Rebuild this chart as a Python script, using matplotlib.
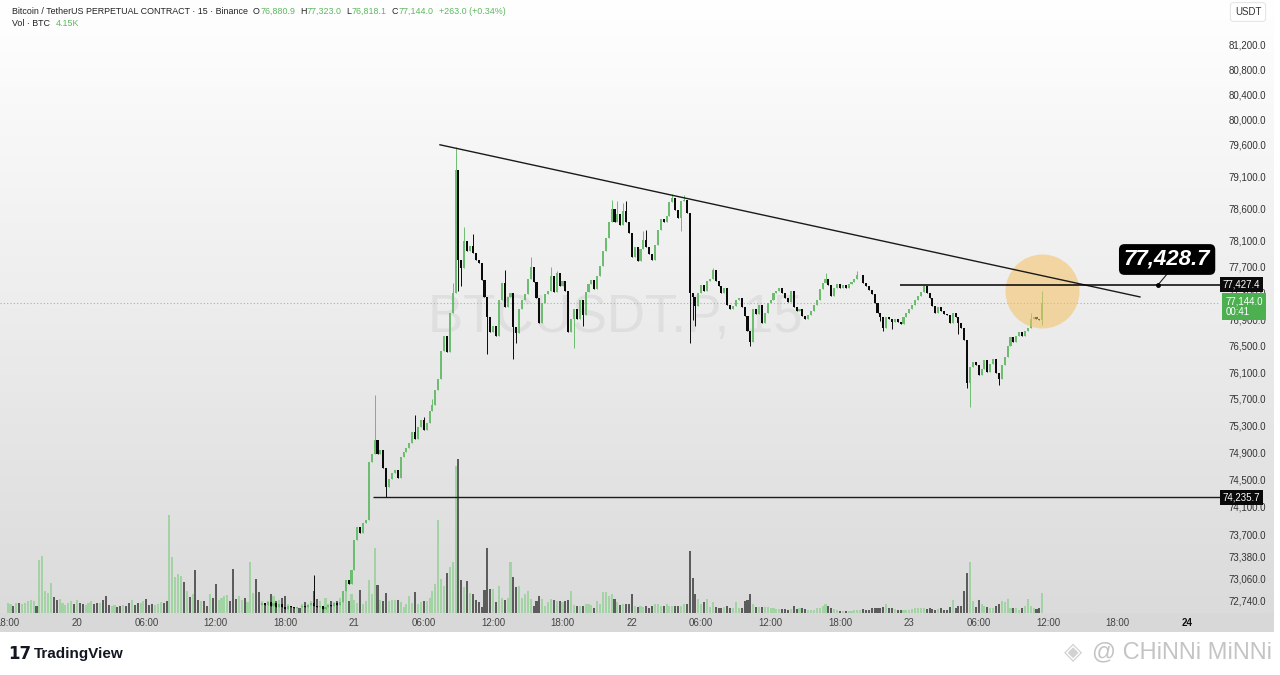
import numpy as np
import matplotlib
matplotlib.use("Agg")
import matplotlib.pyplot as plt
from matplotlib.colors import LinearSegmentedColormap
from matplotlib.patches import Rectangle
from matplotlib.ticker import NullLocator, NullFormatter

plt.rcParams['font.family'] = ['Liberation Sans', 'DejaVu Sans']

# ---------------- data (15-minute candles, t = 0 at 19th 18:00) ----------------
x_tick_pos = list(range(0, 409, 24))
x_tick_labels = ["18:00", "20", "06:00", "12:00", "18:00", "21", "06:00", "12:00", "18:00",
                 "22", "06:00", "12:00", "18:00", "23", "06:00", "12:00", "18:00", "24"]
y_ticks = [81200, 80800, 80400, 80000, 79600, 79100, 78600, 78100, 77700, 77300, 76900,
           76500, 76100, 75700, 75300, 74900, 74500, 74100, 73700, 73380, 73060, 72740]

first_t = 88
first_open = 72680.0
closes = [
    72700, 72680, 72720, 72660, 72700, 72650, 72690, 72640, 72620, 72660, 72640, 72630,
    72650, 72640, 72660, 72650, 72680, 72700, 72660, 72640, 72660, 72620, 72650, 72680, 72660, 72700, 72680, 72720,
    72870, 73040, 72970, 73180, 73620, 73800, 73720, 73860, 73900, 74760, 74870, 75080,
    74870, 74930, 74670, 74390, 74500, 74600, 74640, 74520, 74830, 74900, 74960, 75040,
    75200, 75100, 75280, 75380, 75240, 75330, 75520, 75600, 75830, 75990, 76420, 76650, 76400, 77000, 77300,
    79210, 77800, 77690, 78100, 77950, 78020, 77920, 77810, 77760, 77500, 77240, 76930, 76700, 76800, 76640,
    77200, 77450, 77090, 77240, 77300, 76780, 76690, 77060, 77200, 77280, 77520, 77700, 77470, 77220, 76850,
    77150, 77280, 77330, 77560, 77320, 77600, 77400, 77480, 77330, 76700, 76900, 77050, 76900, 77190, 76960,
    77320, 77430, 77500, 77360, 77560, 77720, 77950, 78140, 78390, 78600, 78400, 78520, 78350, 78560, 78400, 78220, 77850,
    78000, 77790, 77980, 78120, 78000, 77900, 77800, 78040, 78270, 78440, 78400, 78480, 78710, 78770, 78580, 78450, 78720, 78740, 78530,
    77300, 77240, 77100, 77300, 77420, 77330, 77480, 77520, 77650, 77480, 77400, 77300, 77380, 77110, 77050, 77100, 77200, 77230, 77080, 76950, 76720, 76560,
    77060, 76980, 77120, 76840, 77000, 77150, 77200, 77300, 77330, 77380, 77300, 77230, 77170, 77330, 77080, 77020, 77060, 76950, 76900, 76960, 77030, 77110, 77200, 77360, 77460, 77520,
    77420, 77250, 77380, 77430, 77380, 77420, 77370, 77430, 77470, 77520, 77570, 77580, 77460, 77400, 77340, 77280, 77150, 77000, 76930, 76760,
    76940, 76900, 76860, 76900, 76860, 76820, 76940, 77000, 77060, 77120, 77190, 77250, 77310, 77400, 77300, 77220, 77100, 77000, 77090, 77030, 76980,
    76960, 76840, 76990, 76930, 76840, 76770, 76580, 75940, 76170, 76250, 76200, 76050, 76150, 76280, 76100, 76220, 76300, 76080, 75990,
    76200, 76320, 76500, 76630, 76560, 76640, 76700, 76640, 76720, 76760, 76900, 76930, 76900, 76880.9, 77144.0,
]

high_t = [106, 127, 141, 144, 147, 154, 155, 158, 161, 172, 181, 188, 190, 209, 211, 213, 214,
          220, 221, 230, 234, 244, 283, 294, 317, 354, 358]
high_v = [73100, 75760, 75450, 75420, 75700, 77450, 79560, 78310, 78200, 77650, 77850, 77700, 77640,
          78730, 78720, 78690, 78720, 78260, 78270, 78830, 78820, 77690, 77600, 77640, 77427.4, 77000, 77323.0]
low_t = [131, 156, 157, 166, 175, 176, 196, 199, 233, 236, 237, 238, 257, 302, 303, 306, 329,
         332, 333, 343, 358]
low_v = [74236, 77330, 77400, 76380, 76300, 76540, 76470, 76800, 78250, 76540, 76890, 76800, 76500,
         76880, 76720, 76750, 76670, 75860, 75580, 75900, 76818.1]

# volume in thousand BTC, t = 0 .. 358
volume = [
    2.0, 1.8, 1.5, 2.1, 2.0, 1.8, 2.1, 2.4, 2.6, 2.4, 1.4,
    11.0, 11.9, 4.6, 4.2, 6.2, 3.3, 2.8,
    3.0, 2.0, 1.7, 2.0, 2.4, 1.9, 2.8, 2.0, 1.9, 1.7, 2.0, 2.5, 1.9,
    2.0, 2.0, 2.6, 3.5, 1.7, 1.4, 1.7, 1.2, 1.4, 1.7, 1.5, 2.1,
    2.6, 1.7, 2.0, 2.0, 2.4, 2.9, 1.7, 1.9, 1.6, 1.8, 2.2, 2.0, 2.5,
    20.3, 11.7, 7.4, 8.0, 7.7, 6.5, 4.6, 3.3, 3.9, 8.9, 2.8, 2.5,
    2.5, 1.5, 3.9, 3.1, 6.0, 2.8, 3.2, 3.5, 3.7, 2.4, 9.1, 3.0, 3.5, 2.8, 3.2, 2.2, 10.5, 4.2, 7.0, 4.4,
    2.5, 1.8, 2.5, 3.9, 3.5, 2.5, 2.6, 3.2, 3.5, 1.9, 1.5, 1.1, 1.0, 1.1, 1.8, 2.2, 1.8, 2.5,
    4.6, 3.0, 2.5, 1.5, 3.2, 1.8, 2.5, 2.2, 2.5, 3.2, 4.6, 5.6, 2.5, 3.9, 2.8, 2.0, 4.7, 1.8, 2.5, 6.8, 4.0, 13.4,
    5.8, 2.8, 2.5, 4.2, 2.5, 2.8, 2.6, 2.8, 2.2, 1.3, 1.8, 3.5, 2.0, 4.4, 1.8, 2.3, 2.5, 2.5, 3.2, 4.6, 6.0,
    19.2, 7.0, 5.6, 8.4, 9.5, 10.5, 30.5, 32.0, 6.8, 5.3, 6.7, 4.2, 3.9, 2.6, 2.2, 1.3, 4.7, 13.4, 4.9, 4.9, 2.2,
    5.6, 3.2, 2.8, 3.2, 10.6, 7.4, 5.3, 5.6, 3.2, 3.9, 4.5, 2.9, 1.5, 2.5, 3.5, 2.9, 1.5, 2.2, 2.9, 2.6,
    2.5, 2.5, 2.3, 2.4, 2.6, 4.6, 1.7, 1.5, 1.5, 1.5, 1.9, 1.9, 1.7, 1.1, 2.5, 1.8, 4.4, 4.4, 3.5, 3.9,
    2.9, 2.3, 1.7, 1.9, 1.9, 1.8, 3.9, 1.5, 1.3, 1.5, 1.3, 1.5, 1.1, 1.5, 1.9, 1.8, 1.5, 1.5, 1.8, 1.5, 1.5, 1.5, 1.5, 1.5, 1.8, 1.8,
    12.9, 7.2, 3.9, 2.9, 1.8, 2.2, 2.9, 1.3, 2.2, 1.3, 1.1, 1.1, 1.3, 1.5, 1.0, 1.0, 2.2, 1.0, 1.1, 2.5, 2.6, 4.0,
    1.8, 1.3, 1.3, 1.3, 1.3, 1.3, 1.1, 1.0, 0.8, 0.8, 0.8, 0.8, 0.6, 0.8, 1.5, 0.8, 1.0, 1.0, 0.8, 0.7, 0.6, 0.7, 1.0, 1.1, 1.5, 1.9,
    1.5, 1.0, 0.8, 0.6, 0.4, 0.4, 0.4, 0.4, 0.5, 0.6, 0.7, 0.7, 0.8, 0.6, 0.7, 1.1, 1.0, 1.1, 1.0, 1.3,
    1.8, 1.1, 1.0, 0.8, 0.7, 0.6, 0.6, 0.6, 0.7, 0.8, 1.0, 1.1, 1.0, 1.0, 0.8, 1.0, 0.8, 0.7, 0.8, 1.0, 0.7,
    0.7, 1.3, 2.7, 1.1, 1.5, 1.4, 4.5, 8.3, 10.5, 2.5, 1.3, 2.7, 1.9, 1.5, 1.3, 1.0, 1.1, 1.5, 1.8,
    2.5, 2.2, 2.9, 1.1, 1.0, 1.0, 0.7, 1.0, 1.5, 2.9, 1.5, 1.0, 0.8, 1.0, 4.15,
]
# direction of the volume bars before the first visible candle
early_vol_dir = ("uududuuuuud" "uuuuudd" "uuuuududduuud" "duddduuddudd"
                 "udduuddduuudd" "uuuuudududdu" "ddudduuuuddduuduuudd")

trend_t = [149.6, 391.8]
trend_p = [79600, 77240]
resistance = 77427.4
res_start_t = 308.8
support = 74235.7
sup_start_t = 126.4
last_price = 77144.0
callout_text = "77,428.7"
callout_t = 401.2
callout_p = 77814
pointer_p = 77591
pointer_t = 398.1

header_title = "Bitcoin / TetherUS PERPETUAL CONTRACT \u00b7 15 \u00b7 Binance"
header_ohlc = [("O", "76,880.9"), ("H", "77,323.0"), ("L", "76,818.1"), ("C", "77,144.0")]
header_change = "+263.0 (+0.34%)"
vol_label = "Vol \u00b7 BTC"
vol_value = "4.15K"

# ---------------- figure ----------------
W, H = 1280, 675
fig = plt.figure(figsize=(12.8, 6.75), dpi=100)
fig.patch.set_facecolor('white')


def fx(px):
    return px / W


def fy(py):
    return 1 - py / H


UP = '#6dbd70'
DOWN = '#0a0a0a'
VUP = '#a3d3a4'
VDOWN = '#5c5c5c'
GREEN_TXT = '#5cb85f'

# background gradient
bg = fig.add_axes([0, fy(613), fx(1274), 613 / H], zorder=0)
cmap = LinearSegmentedColormap.from_list('g', ['#dbdbdb', '#ffffff'])
bg.imshow(np.linspace(0, 1, 256)[:, None], aspect='auto', cmap=cmap,
          extent=[0, 1, 0, 1], origin='lower')
bg.set_axis_off()

# x-axis strip
fig.patches.append(Rectangle((0, fy(632)), fx(1274), 19 / H, transform=fig.transFigure,
                             facecolor='#d8d8d8', edgecolor='none', zorder=0.5))

rect = [0, fy(613), fx(1220), 613 / H]
axv = fig.add_axes(rect, zorder=2)
ax = fig.add_axes(rect, zorder=3, sharex=axv)
for a in (ax, axv):
    a.patch.set_visible(False)
    for s in a.spines.values():
        s.set_visible(False)

# candles
closes_a = np.array(closes, dtype=float)
opens_a = np.concatenate([[first_open], closes_a[:-1]])
t = first_t + np.arange(len(closes_a))
hi = np.maximum(opens_a, closes_a)
lo = np.minimum(opens_a, closes_a)
for tt, v in zip(high_t, high_v):
    hi[tt - first_t] = max(hi[tt - first_t], v)
for tt, v in zip(low_t, low_v):
    lo[tt - first_t] = min(lo[tt - first_t], v)
up = closes_a >= opens_a
ccol = np.where(up, UP, DOWN)
ax.vlines(t, lo, hi, colors=ccol, linewidth=0.7, zorder=3.9)
ax.bar(t, np.maximum(np.abs(closes_a - opens_a), 8), bottom=np.minimum(opens_a, closes_a),
       width=0.72, color=ccol, linewidth=0, zorder=4)

# volume
vol = np.array(volume)
tv = np.arange(len(vol))
vdir = np.array([c == 'u' for c in early_vol_dir] + list(up))
axv.bar(tv, vol, width=0.72, color=np.where(vdir, VUP, VDOWN), linewidth=0)
axv.set_ylim(0, 613 * 0.2075)
axv.set_axis_off()

# scales
ax.set_yscale('log')
ax.set_ylim(72558, 81913)
ax.set_xlim(-2.63, 419.5)
ax.yaxis.set_minor_locator(NullLocator())
ax.yaxis.set_minor_formatter(NullFormatter())
ax.set_yticks(y_ticks, labels=[f"{v:,.1f}" for v in y_ticks])
ax.yaxis.set_minor_locator(NullLocator())
ax.yaxis.tick_right()
ax.tick_params(axis='y', length=0, pad=6, labelsize=7, labelcolor='#333333')
ax.set_xticks(x_tick_pos, labels=x_tick_labels)
ax.tick_params(axis='x', length=0, pad=3.5, labelsize=7, labelcolor='#444444')
ax.get_xticklabels()[-1].set_fontweight('bold')
ax.get_xticklabels()[-1].set_color('#111111')

# watermark
ax.text(0.504, 0.481, "BTCUSDT.P, 15", transform=ax.transAxes, ha='center', va='center',
        fontsize=38, color=(0, 0, 0, 0.055), zorder=0)

# current price dotted line
ax.axhline(last_price, color='#8cc48c', lw=0.8, ls=(0, (1, 2)), zorder=2)

# highlight circle around last candle
ax.scatter([t[-1]], [77330], s=2840, color='#f5c162', alpha=0.55, linewidths=0, zorder=4.5)

# drawings
ax.plot(trend_t, trend_p, color='#1a1a1a', lw=1.0, zorder=5)
ax.hlines(resistance, res_start_t, 419.5, color='#000000', lw=1.1, zorder=5)
ax.hlines(support, sup_start_t, 419.5, color='#1a1a1a', lw=1.0, zorder=5)

# callout
ax.plot([callout_t, pointer_t], [pointer_p, resistance], color='#222222', lw=0.8, zorder=6)
ax.plot([pointer_t], [resistance], marker='o', ms=2.5, color='#000000', zorder=6)
ax.text(callout_t, callout_p, callout_text, ha='center', va='center', fontsize=16,
        fontweight='bold', fontstyle='italic', color='white', zorder=7,
        bbox=dict(boxstyle='round,pad=0.22,rounding_size=0.25', fc='black', ec='none'))

# price-scale labels
ytr = ax.get_yaxis_transform()
ax.text(1.002, resistance, "77,427.4", transform=ytr, ha='left', va='center', fontsize=7,
        color='white', clip_on=False, zorder=10,
        bbox=dict(boxstyle='square,pad=0.28', fc='#0a0a0a', ec='none'))
ax.text(1.002, support, "74,235.7", transform=ytr, ha='left', va='center', fontsize=7,
        color='white', clip_on=False, zorder=10,
        bbox=dict(boxstyle='square,pad=0.28', fc='#0a0a0a', ec='none'))
ax.annotate("77,144.0\n00:41", xy=(1.002, last_price), xycoords=ytr, xytext=(2, 5),
            textcoords='offset points', ha='left', va='top', fontsize=7, color='white',
            linespacing=1.1, annotation_clip=False, zorder=10,
            bbox=dict(boxstyle='square,pad=0.3', fc='#4caf50', ec='none'))

# USDT box
fig.text(fx(1248), fy(12), "USDT", ha='center', va='center', fontsize=7, color='#333333',
         bbox=dict(boxstyle='round,pad=0.45,rounding_size=0.3', fc='white', ec='#e6e6e6', lw=0.8))

# header
t0 = fig.text(fx(12), fy(11), header_title, ha='left', va='center', fontsize=6.4, color='#222222')
prev = t0
for letter, val in header_ohlc:
    a1 = bg.annotate(letter, xy=(1, 0.5), xycoords=prev, xytext=(3.5, 0), textcoords='offset points',
                     ha='left', va='center', fontsize=6.4, color='#222222', annotation_clip=False)
    a2 = bg.annotate(val, xy=(1, 0.5), xycoords=a1, xytext=(0.3, 0), textcoords='offset points',
                     ha='left', va='center', fontsize=6.4, color=GREEN_TXT, annotation_clip=False)
    prev = a2
bg.annotate(header_change, xy=(1, 0.5), xycoords=prev, xytext=(3.5, 0), textcoords='offset points',
            ha='left', va='center', fontsize=6.4, color=GREEN_TXT, annotation_clip=False)
v0 = fig.text(fx(12), fy(23), vol_label, ha='left', va='center', fontsize=6.4, color='#222222')
bg.annotate(vol_value, xy=(1, 0.5), xycoords=v0, xytext=(4, 0), textcoords='offset points',
            ha='left', va='center', fontsize=6.4, color=GREEN_TXT, annotation_clip=False)

# footer
fig.text(fx(8), fy(654), "17", ha='left', va='center', fontsize=12, fontweight='heavy',
         color='#131722', family=['DejaVu Sans'])
fig.text(fx(34), fy(654), "TradingView", ha='left', va='center', fontsize=11, fontweight='bold',
         color='#131722')
fig.text(fx(1073), fy(652), "\u25c8", ha='center', va='center', fontsize=17, color='#d2d2d2',
         family=['DejaVu Sans'])
fig.text(fx(1272), fy(652), "@ CHiNNi MiNNi", ha='right', va='center', fontsize=17,
         color='#c4c4c4')

fig.savefig("out.png", dpi=100, facecolor='white')
